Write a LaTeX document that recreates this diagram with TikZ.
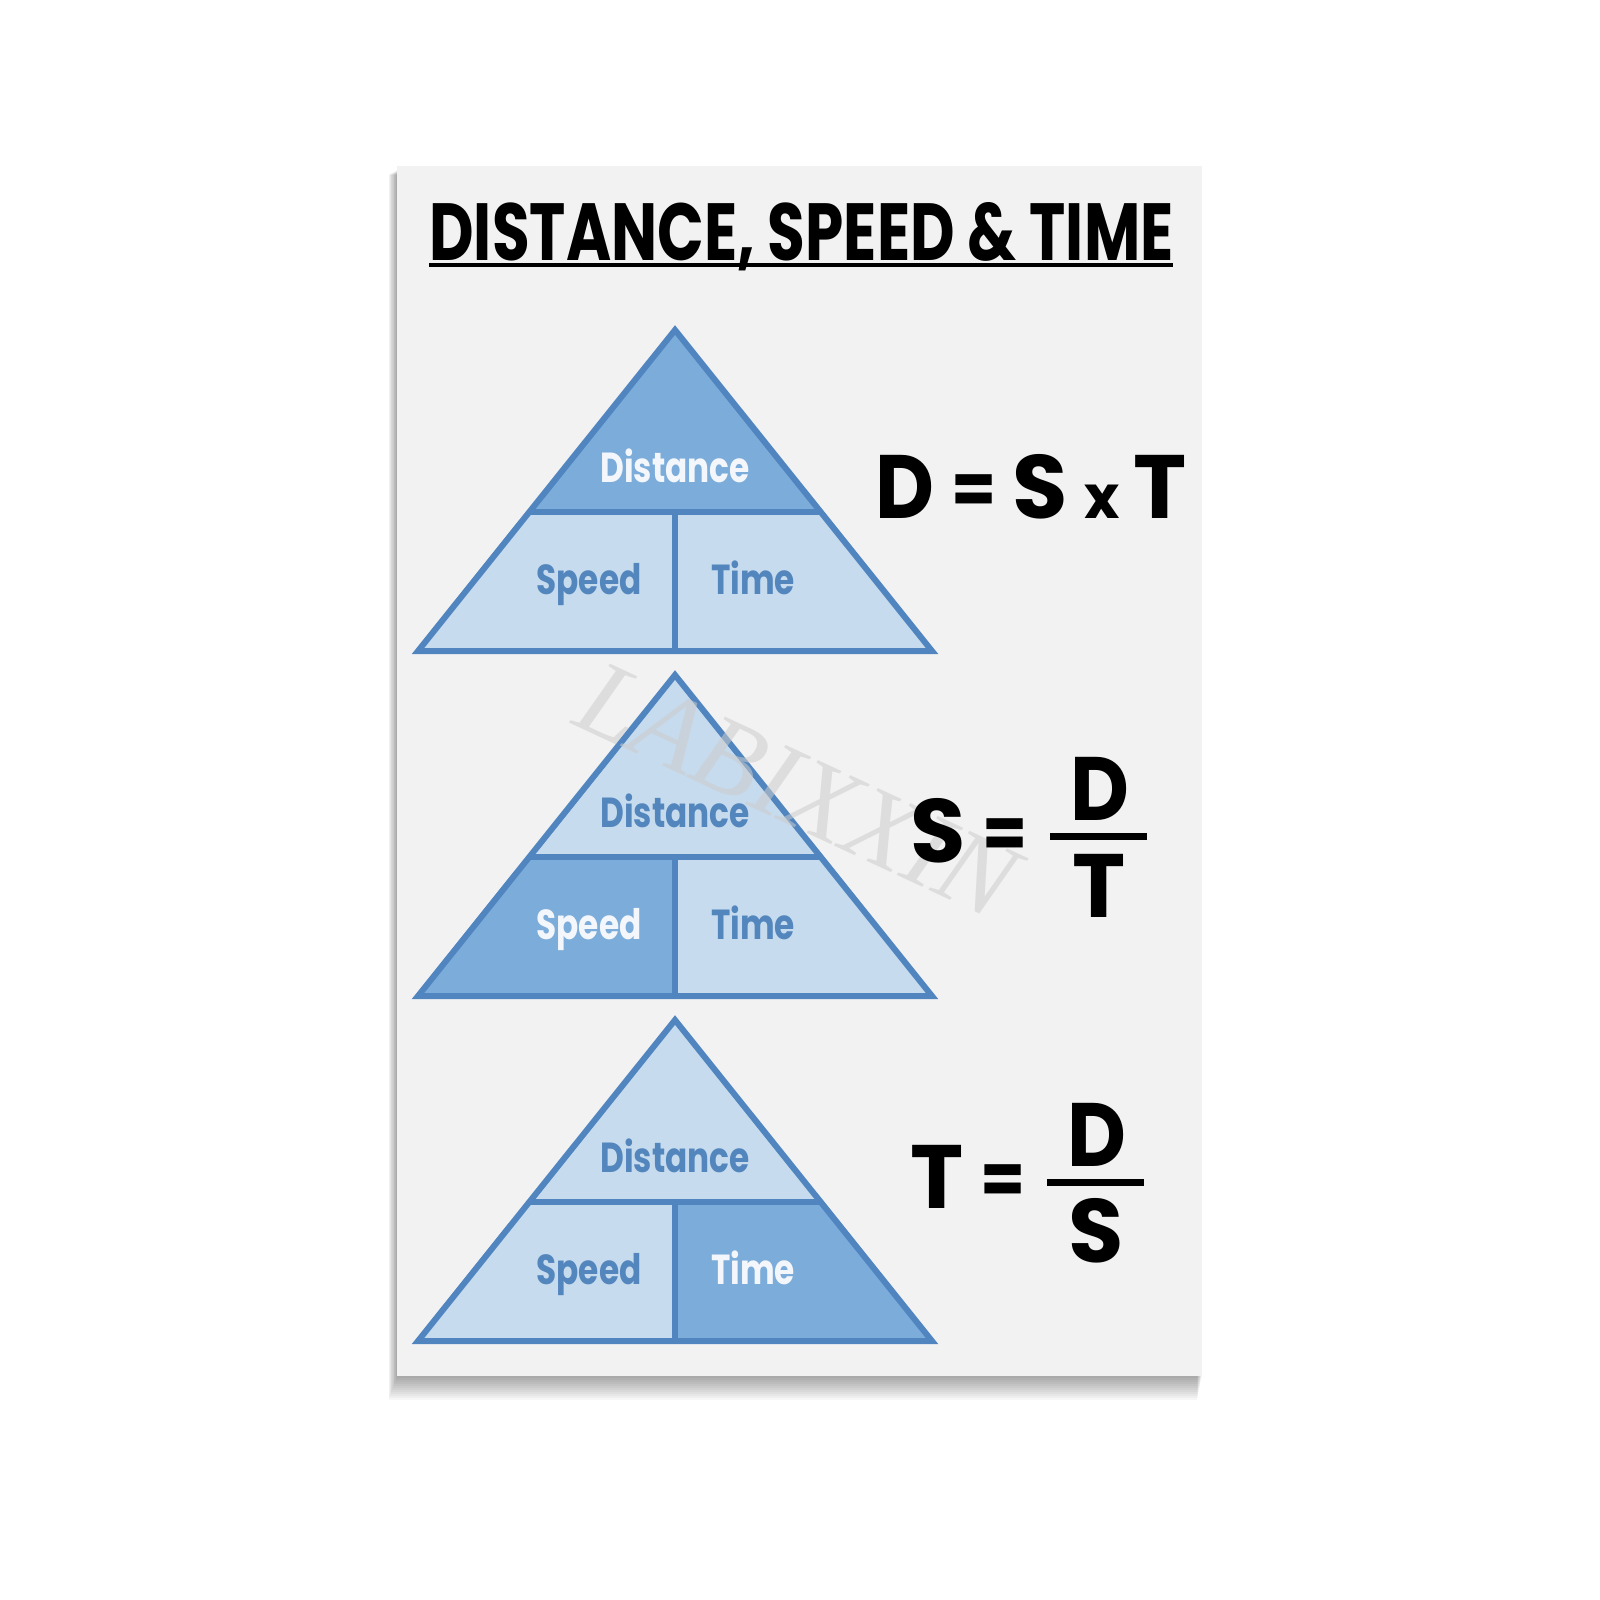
\documentclass[tikz,border=0pt]{standalone}
\usepackage{fontspec}
\setmainfont{Poppins}
\newfontfamily\wmfont{Liberation Serif}
\usepackage{graphicx}
\definecolor{panelbg}{RGB}{242,242,243}
\definecolor{darkfill}{RGB}{124,172,218}
\definecolor{lightfill}{RGB}{198,219,237}
\definecolor{bordercol}{RGB}{80,133,192}
\definecolor{lighttext}{RGB}{84,134,190}
\definecolor{darktext}{RGB}{243,246,250}
\tikzset{
  border/.style={draw=bordercol,line width=3pt},
  lbl/.style={inner sep=0pt,anchor=base,font=\fontsize{21}{21}\selectfont\bfseries},
  eqglyph/.style={inner sep=0pt,anchor=base,font=\fontsize{45}{45}\selectfont\bfseries,text=black},
  fracbar/.style={line width=3.5pt,black}
}
\newcommand\pyramid[8]{%
\begin{scope}[shift={(0,#1)}]
  \fill[#2] (675,330) -- (821,512) -- (529,512) -- cycle;
  \fill[#3] (529,512) -- (675,512) -- (675,651) -- (418,651) -- cycle;
  \fill[#4] (675,512) -- (821,512) -- (932,651) -- (675,651) -- cycle;
  \draw[border,line join=miter] (675,330) -- (932,651) -- (418,651) -- cycle;
  \draw[border] (529,512) -- (821,512) (675,512) -- (675,651);
  \node[lbl,text=#5] (#8dist) at (675,482) {\scalebox{0.78}[1]{Distance}};
  \node[lbl,text=#6] (#8speed) at (589,594) {\scalebox{0.78}[1]{Speed}};
  \node[lbl,text=#7] (#8time) at (753,594) {\scalebox{0.78}[1]{Time}};
\end{scope}}
\newcommand\eqsign{\scalebox{0.72}[0.8]{=}}
\begin{document}
\begin{tikzpicture}[x=0.5pt,y=-0.5pt]
\useasboundingbox (0,0) rectangle (1600,1600);
\fill[white] (0,0) rectangle (1600,1600);
% shadow
\foreach \i in {1,...,12}
  \fill[black,opacity=0.03] (397-\i*0.7,170+\i*0.4) rectangle (1202-\i*0.4,1376+\i*2.0);
\fill[panelbg] (397,166) rectangle (1202,1376);
% title
\node[inner sep=0pt,anchor=base west] (title) at (429,260)
  {\resizebox{372pt}{29pt}{\bfseries DISTANCE, SPEED \& TIME}};
\draw[line width=2pt,black] (429,265) -- (1173,265);
% pyramids
\pyramid{0}{darkfill}{lightfill}{lightfill}{darktext}{lighttext}{lighttext}{a}
\pyramid{345}{lightfill}{darkfill}{lightfill}{lighttext}{darktext}{lighttext}{b}
\pyramid{690}{lightfill}{lightfill}{darkfill}{lighttext}{lighttext}{darktext}{c}
% watermark
\node[rotate=-25,text=gray!40,opacity=0.55,inner sep=0pt,font=\fontsize{54}{54}\selectfont\wmfont\itshape] (wm) at (798,790) {LABIXXIN};
% equation 1
\node[eqglyph] (e1d) at (905,518) {\scalebox{0.9}[1]{D}};
\node[eqglyph] (e1eq) at (974,514) {\eqsign};
\node[eqglyph] (e1s) at (1040,518) {S};
\node[eqglyph,font=\fontsize{30}{30}\selectfont\bfseries] (e1x) at (1102,518) {x};
\node[eqglyph] (e1t) at (1160,518) {T};
% equation 2
\node[eqglyph] (e2s) at (938,862) {S};
\node[eqglyph] (e2eq) at (1005,858) {\eqsign};
\node[eqglyph] (e2d) at (1100,820) {\scalebox{0.9}[1]{D}};
\node[eqglyph] (e2t) at (1099,917) {T};
\coordinate (e2l) at (1050,836);
\coordinate (e2r) at (1147,836);
\draw[fracbar] (e2l) -- (e2r);
% equation 3
\node[eqglyph] (e3t) at (937,1208) {T};
\node[eqglyph] (e3eq) at (1003,1204) {\eqsign};
\node[eqglyph] (e3d) at (1097,1166) {\scalebox{0.9}[1]{D}};
\node[eqglyph] (e3s) at (1096,1262) {S};
\coordinate (e3l) at (1047,1182);
\coordinate (e3r) at (1144,1182);
\draw[fracbar] (e3l) -- (e3r);
\end{tikzpicture}
\end{document}
